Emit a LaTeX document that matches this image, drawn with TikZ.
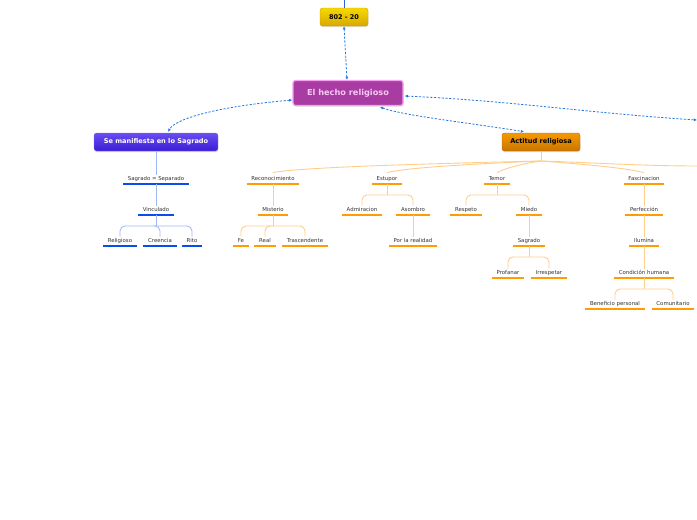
\documentclass[tikz,border=0pt]{standalone}
\usepackage{fontspec}
\setmainfont{DejaVu Sans}
\usetikzlibrary{arrows.meta,shadows,calc}
\definecolor{bul}{HTML}{0A4CF0}
\definecolor{buc}{HTML}{9DB8F5}
\definecolor{orl}{HTML}{FF9C00}
\definecolor{orc}{HTML}{FFCF8A}
\definecolor{dsh}{HTML}{2279E2}
\definecolor{txt}{HTML}{333333}
\definecolor{ehfill}{HTML}{A93CA3}
\definecolor{ehdraw}{HTML}{F4A0EE}
\definecolor{ehtext}{HTML}{F8C8F4}
\definecolor{smtop}{HTML}{6A4CF0}
\definecolor{smbot}{HTML}{3A1ED6}
\definecolor{smdraw}{HTML}{8E7AF5}
\definecolor{acttop}{HTML}{F59A00}
\definecolor{actbot}{HTML}{C87400}
\definecolor{actdraw}{HTML}{B86A00}
\definecolor{numtop}{HTML}{F5D800}
\definecolor{numbot}{HTML}{D8A800}
\definecolor{numdraw}{HTML}{C9A000}
\definecolor{topln}{HTML}{2A62D8}
\newcommand\mybranch[3]{\draw[#1] (#2.south) -- ++(0,11);
  \draw[#1,rounded corners=5pt] ($(#2.south)+(0,11)$) -| (#3.north);}
\tikzset{
  lbl/.style={font=\fontsize{5.4}{6.5}\selectfont, text=txt, inner xsep=4.5pt, inner ysep=1.8pt,
     text height=4.2pt, text depth=1.2pt, anchor=south},
  oc/.style={draw=orc, line width=0.9pt},
  bc/.style={draw=buc, line width=0.8pt},
  oul/.style={draw=orl, line width=2.3pt},
  bul/.style={draw=bul, line width=2.3pt},
  dline/.style={draw=dsh, line width=0.8pt, dash pattern=on 2.2pt off 1.6pt, {Latex[length=3.2pt,width=3pt]}-{Latex[length=3.2pt,width=3pt]}},
  topbox/.style={rounded corners=2.5pt, inner sep=0pt,
     drop shadow={shadow xshift=0.4pt, shadow yshift=-1pt, opacity=0.25}},
}
\begin{document}
\begin{tikzpicture}[x=1pt,y=-1pt]
\useasboundingbox[fill=white] (0,0) rectangle (697,520);

% main boxes
\node[topbox, top color=numtop, bottom color=numbot, draw=numdraw,
  minimum width=48pt, minimum height=18pt, font=\fontsize{6.5}{8}\selectfont\bfseries, text=black] (num) at (344,17) {802 - 20};
\node[topbox, fill=ehfill, draw=ehdraw, line width=1.2pt,
  minimum width=110pt, minimum height=25pt, font=\fontsize{8.2}{10}\selectfont\bfseries, text=ehtext] (eh) at (348,93) {El hecho religioso};
\node[topbox, top color=smtop, bottom color=smbot, draw=smdraw,
  minimum width=124pt, minimum height=18pt, font=\fontsize{6.6}{8}\selectfont\bfseries, text=white] (sm) at (156,142) {Se manifiesta en lo Sagrado};
\node[topbox, top color=acttop, bottom color=actbot, draw=actdraw,
  minimum width=78pt, minimum height=18pt, font=\fontsize{6.6}{8}\selectfont\bfseries, text=black] (act) at (541,142) {Actitud religiosa};

\coordinate (top) at (344,0);
\draw[draw=topln, line width=0.8pt] (top) -- (num.north);

% dashed relations
\draw[dline] (num.south) -- ($(eh.north)+(-1,0)$);
\draw[dline] ($(eh.west)+(0,7)$) .. controls +(-70,6) and +(8,-14) .. ($(sm.north)+(12,-1)$);
\draw[dline] ($(eh.south)+(32,1)$) .. controls +(25,9) and +(-40,-7) .. ($(act.north)+(-17,-1)$);
\coordinate (off1) at (697,120);
\draw[dline] ($(eh.east)+(1,3)$) .. controls +(110,5) and +(-110,-7) .. (off1);

% blue subtree
\node[lbl] (ss) at (156,184) {Sagrado = Separado};
\node[lbl] (vin) at (156,215) {Vinculado};
\node[lbl] (rel) at (120,246) {Religioso};
\node[lbl] (cre) at (160,246) {Creencia};
\node[lbl] (rit) at (192,246) {Rito};
\foreach \n in {ss,vin,rel,cre,rit} \draw[bul] (\n.south west) -- (\n.south east);
\draw[bc] (sm.south) -- (ss.north);
\draw[bc] (ss.south) -- (vin.north);
\mybranch{bc}{vin}{rel}
\mybranch{bc}{vin}{cre}
\mybranch{bc}{vin}{rit}

% orange subtree
\node[lbl] (rec) at (273,184) {Reconocimiento};
\node[lbl] (est) at (387,184) {Estupor};
\node[lbl] (tem) at (497,184) {Temor};
\node[lbl] (fas) at (644,184) {Fascinacion};
\node[lbl] (mis) at (273,215) {Misterio};
\node[lbl] (fe) at (241,246) {Fe};
\node[lbl] (real) at (265,246) {Real};
\node[lbl] (tra) at (305,246) {Trascendente};
\node[lbl] (adm) at (362,215) {Admiracion};
\node[lbl] (aso) at (413,215) {Asombro};
\node[lbl] (por) at (413,246) {Por la realidad};
\node[lbl] (res) at (466,215) {Respeto};
\node[lbl] (mie) at (529,215) {Miedo};
\node[lbl] (sag) at (529,246) {Sagrado};
\node[lbl] (pro) at (508,278) {Profanar};
\node[lbl] (irr) at (549,278) {Irrespetar};
\node[lbl] (per) at (644,215) {Perfección};
\node[lbl] (ilu) at (644,246) {Ilumina};
\node[lbl] (con) at (644,278) {Condición humana};
\node[lbl] (ben) at (615,309) {Beneficio personal};
\node[lbl] (com) at (673,309) {Comunitario};
\foreach \n in {rec,est,tem,fas,mis,fe,real,tra,adm,aso,por,res,mie,sag,pro,irr,per,ilu,con,ben,com}
  \draw[oul] (\n.south west) -- (\n.south east);

\coordinate (hub) at (541,161);
\coordinate (off2) at (697,166);
\draw[oc] (act.south) -- (hub);
\draw[oc] (hub) .. controls +(-130,3) and +(25,-5) .. ($(rec.north)+(0,-2)$);
\draw[oc] (hub) .. controls +(-70,3) and +(20,-5) .. ($(est.north)+(0,-2)$);
\draw[oc] (hub) .. controls +(-20,3) and +(10,-5) .. ($(tem.north)+(0,-2)$);
\draw[oc] (hub) .. controls +(40,3) and +(-20,-5) .. ($(fas.north)+(0,-2)$);
\draw[oc] (hub) .. controls +(60,2) and +(-50,0) .. (off2);

\draw[oc] (rec.south) -- (mis.north);
\mybranch{oc}{mis}{fe}
\mybranch{oc}{mis}{real}
\mybranch{oc}{mis}{tra}
\mybranch{oc}{est}{adm}
\mybranch{oc}{est}{aso}
\draw[oc] (aso.south) -- (por.north);
\mybranch{oc}{tem}{res}
\mybranch{oc}{tem}{mie}
\draw[oc] (mie.south) -- (sag.north);
\mybranch{oc}{sag}{pro}
\mybranch{oc}{sag}{irr}
\draw[oc] (fas.south) -- (per.north);
\draw[oc] (per.south) -- (ilu.north);
\draw[oc] (ilu.south) -- (con.north);
\mybranch{oc}{con}{ben}
\mybranch{oc}{con}{com}
\end{tikzpicture}
\end{document}
